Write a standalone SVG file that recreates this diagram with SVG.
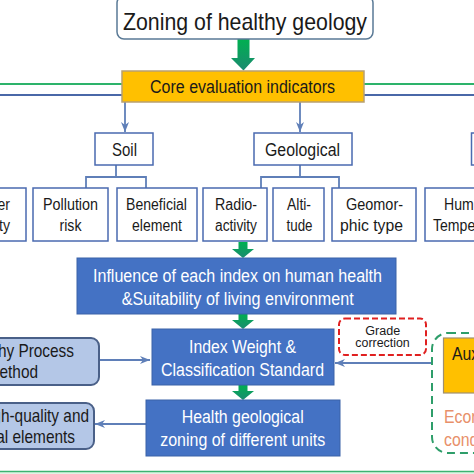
<svg xmlns="http://www.w3.org/2000/svg" width="474" height="474" viewBox="0 0 474 474">
<defs>
<linearGradient id="gArrow" x1="0" y1="0" x2="0" y2="1">
<stop offset="0" stop-color="#00b050"/>
<stop offset="1" stop-color="#1b8a70"/>
</linearGradient>
<marker id="ah" viewBox="0 0 10 8" refX="10" refY="4" markerWidth="10" markerHeight="8" markerUnits="userSpaceOnUse" orient="auto">
<path d="M0,0 L10,4 L0,8 L3,4 Z" fill="#5f7fb8"/>
</marker>
<style>
.t{font-family:"Liberation Sans",Arial,sans-serif;fill:#1a1a1a}
.w{font-family:"Liberation Sans",Arial,sans-serif;fill:#ffffff}
.sub{fill:#ffffff;stroke:#4a6ab0;stroke-width:1.5}
.blue{fill:#4472c4;stroke:#3a62a8;stroke-width:1}
.lb{fill:#b4c7e7;stroke:#4a6088;stroke-width:2}
.con{stroke:#5f7fb8;stroke-width:1.8;fill:none}
</style>
</defs>
<rect width="474" height="474" fill="#ffffff"/>

<g id="connectors">
<line x1="0" y1="84" x2="474" y2="84" stroke="#2db36b" stroke-width="1.8"/>
<line x1="0" y1="95" x2="474" y2="95" stroke="#4a68a8" stroke-width="2"/>
<polygon points="237.5,39 249.5,39 249.5,58 255,58 243.5,70.5 231,58 237.5,58" fill="url(#gArrow)"/>
<line class="con" x1="125" y1="102" x2="125" y2="132" marker-end="url(#ah)"/>
<line class="con" x1="300" y1="102" x2="300" y2="132" marker-end="url(#ah)"/>
<path class="con" d="M116 165 V177 M86 188 V177 H146 V188"/>
<path class="con" d="M300 165 V177 M261 188 V177 H339 V188"/>
<polygon points="238.5,242 247.5,242 247.5,249 254,249 243,258 232,249 238.5,249" fill="url(#gArrow)"/>
<polygon points="238.5,314 247.5,314 247.5,320 254,320 243,329 232,320 238.5,320" fill="url(#gArrow)"/>
<polygon points="238.5,385 247.5,385 247.5,391 254,391 243,400 232,391 238.5,391" fill="url(#gArrow)"/>
<line class="con" x1="99" y1="360" x2="150" y2="360" marker-end="url(#ah)"/>
<line class="con" x1="146" y1="424" x2="95" y2="424" marker-end="url(#ah)"/>
<line class="con" x1="432" y1="363" x2="335" y2="363" marker-end="url(#ah)"/>
</g>

<g id="title">
<rect x="117" y="-4" width="256" height="43" rx="7" fill="#ffffff" stroke="#5a7a96" stroke-width="1.5"/>
<text class="t" x="245" y="29.5" font-size="24" text-anchor="middle" textLength="244" lengthAdjust="spacingAndGlyphs">Zoning of healthy geology</text>
</g>

<g id="core">
<rect x="122" y="71" width="242" height="31" fill="#ffc000" stroke="#b8a070" stroke-width="1.5"/>
<text class="t" x="242.5" y="93" font-size="17.5" text-anchor="middle" textLength="185" lengthAdjust="spacingAndGlyphs">Core evaluation indicators</text>
</g>

<g id="soil">
<rect class="sub" x="95" y="133" width="58" height="32"/>
<text class="t" x="124.5" y="156" font-size="17.5" text-anchor="middle" textLength="25" lengthAdjust="spacingAndGlyphs">Soil</text>
</g>
<g id="geological">
<rect class="sub" x="254" y="133" width="98" height="32"/>
<text class="t" x="302.5" y="156" font-size="17.5" text-anchor="middle" textLength="75" lengthAdjust="spacingAndGlyphs">Geological</text>
</g>
<g id="climate">
<rect class="sub" x="471.5" y="133" width="60" height="32"/>
</g>

<g id="water">
<rect class="sub" x="-50" y="188" width="76" height="53"/>
<text class="t" transform="translate(10,209.5) scale(0.88,1)" font-size="16" text-anchor="end">Water</text>
<text class="t" transform="translate(10,230.5) scale(0.88,1)" font-size="16" text-anchor="end">quality</text>
</g>
<g id="pollution">
<rect class="sub" x="33" y="188" width="75" height="53"/>
<text class="t" x="70.5" y="209.5" font-size="16" text-anchor="middle" textLength="55" lengthAdjust="spacingAndGlyphs">Pollution</text>
<text class="t" x="70.5" y="230.5" font-size="16" text-anchor="middle" textLength="22" lengthAdjust="spacingAndGlyphs">risk</text>
</g>
<g id="beneficial">
<rect class="sub" x="117" y="188" width="80" height="53"/>
<text class="t" x="156.5" y="209.5" font-size="16" text-anchor="middle" textLength="61" lengthAdjust="spacingAndGlyphs">Beneficial</text>
<text class="t" x="157" y="230.5" font-size="16" text-anchor="middle" textLength="50" lengthAdjust="spacingAndGlyphs">element</text>
</g>
<g id="radioactivity">
<rect class="sub" x="203" y="188" width="64" height="53"/>
<text class="t" x="236" y="209.5" font-size="16" text-anchor="middle" textLength="42" lengthAdjust="spacingAndGlyphs">Radio-</text>
<text class="t" x="236" y="230.5" font-size="16" text-anchor="middle" textLength="42" lengthAdjust="spacingAndGlyphs">activity</text>
</g>
<g id="altitude">
<rect class="sub" x="273" y="188" width="51" height="53"/>
<text class="t" x="299" y="209.5" font-size="16" text-anchor="middle" textLength="24" lengthAdjust="spacingAndGlyphs">Alti-</text>
<text class="t" x="299.5" y="230.5" font-size="16" text-anchor="middle" textLength="26" lengthAdjust="spacingAndGlyphs">tude</text>
</g>
<g id="geomorphic">
<rect class="sub" x="332" y="188" width="84" height="53"/>
<text class="t" x="374.5" y="209.5" font-size="16" text-anchor="middle" textLength="57" lengthAdjust="spacingAndGlyphs">Geomor-</text>
<text class="t" x="371.5" y="230.5" font-size="16" text-anchor="middle" textLength="63" lengthAdjust="spacingAndGlyphs">phic type</text>
</g>
<g id="humidity">
<rect class="sub" x="425" y="188" width="95" height="53"/>
<text class="t" transform="translate(444,209.5) scale(0.88,1)" font-size="16">Humidity</text>
<text class="t" transform="translate(433,230.5) scale(0.88,1)" font-size="16">Temperature</text>
</g>

<g id="influence">
<rect class="blue" x="77" y="258" width="319" height="56"/>
<text class="w" x="237.5" y="282" font-size="17.5" text-anchor="middle" textLength="289" lengthAdjust="spacingAndGlyphs">Influence of each index on human health</text>
<text class="w" x="237.7" y="305" font-size="17.5" text-anchor="middle" textLength="232" lengthAdjust="spacingAndGlyphs">&amp;Suitability of living environment</text>
</g>
<g id="weight">
<rect class="blue" x="152" y="329" width="182" height="56"/>
<text class="w" x="242.5" y="353.3" font-size="17.5" text-anchor="middle" textLength="107" lengthAdjust="spacingAndGlyphs">Index Weight &amp;</text>
<text class="w" x="242.5" y="375.5" font-size="17.5" text-anchor="middle" textLength="163" lengthAdjust="spacingAndGlyphs">Classification Standard</text>
</g>
<g id="zoning">
<rect class="blue" x="146" y="400" width="194" height="56"/>
<text class="w" x="242.7" y="423.3" font-size="17.5" text-anchor="middle" textLength="122" lengthAdjust="spacingAndGlyphs">Health geological</text>
<text class="w" x="242.7" y="446" font-size="17.5" text-anchor="middle" textLength="165" lengthAdjust="spacingAndGlyphs">zoning of different units</text>
</g>

<g id="ahp">
<rect class="lb" x="-30" y="338" width="129" height="47" rx="8"/>
<text class="t" transform="translate(74,356.7) scale(0.88,1)" font-size="17.5" text-anchor="end">Hierarchy Process</text>
<text class="t" transform="translate(38,378) scale(0.88,1)" font-size="17.5" text-anchor="end">Method</text>
</g>
<g id="elements">
<rect class="lb" x="-30" y="403" width="124" height="46" rx="8"/>
<text class="t" transform="translate(89,421.7) scale(0.88,1)" font-size="17.5" text-anchor="end">High-quality and</text>
<text class="t" transform="translate(75,443) scale(0.88,1)" font-size="17.5" text-anchor="end">special elements</text>
</g>

<g id="grade">
<rect x="339" y="318.5" width="87" height="36.5" rx="6" fill="#ffffff" stroke="#e02020" stroke-width="2" stroke-dasharray="6 3"/>
<text class="t" x="382.8" y="334.5" font-size="12.5" text-anchor="middle" textLength="35" lengthAdjust="spacingAndGlyphs">Grade</text>
<text class="t" x="382.5" y="347" font-size="12.5" text-anchor="middle" textLength="54.4" lengthAdjust="spacingAndGlyphs">correction</text>
</g>

<g id="auxiliary">
<rect x="432" y="333" width="90" height="120" rx="16" fill="none" stroke="#2e9e6a" stroke-width="2" stroke-dasharray="8 5"/>
<rect x="443.5" y="338" width="60" height="55" fill="#ffc000" stroke="#a09070" stroke-width="1.2"/>
<text class="t" transform="translate(452,360) scale(0.88,1)" font-size="18">Auxiliary</text>
<text transform="translate(444,422.5) scale(0.88,1)" font-size="18" font-family="Liberation Sans, Arial, sans-serif" fill="#e8906a">Economic</text>
<text transform="translate(444,446) scale(0.88,1)" font-size="18" font-family="Liberation Sans, Arial, sans-serif" fill="#e8906a">conditions</text>
</g>

<g id="bottom">
<rect x="0" y="472" width="474" height="2" fill="#dff3e5"/>
<line x1="0" y1="471.5" x2="474" y2="471.5" stroke="#3cb371" stroke-width="1.5"/>
</g>
</svg>
